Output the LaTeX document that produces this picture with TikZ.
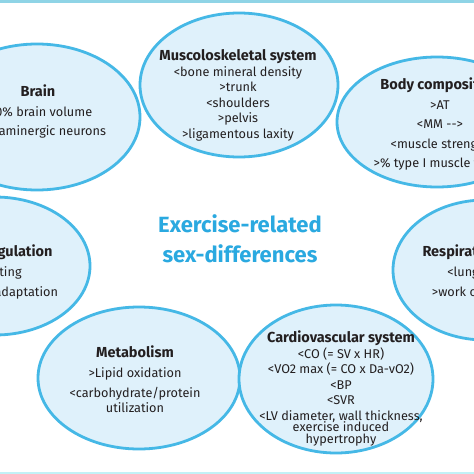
\documentclass[tikz,border=0pt]{standalone}
\usepackage{fontspec}
\setmainfont{Fira Sans}
\usetikzlibrary{shapes.geometric}
\definecolor{ringline}{HTML}{45B8E6}
\definecolor{ringfill}{HTML}{DFF1FB}
\definecolor{titleblue}{HTML}{2AA9E0}
\definecolor{topband}{HTML}{8FD4E6}
\definecolor{botband}{HTML}{C2F1F6}
\definecolor{txt}{HTML}{231F20}
\tikzset{
  ring/.style={ellipse, draw=ringline, fill=ringfill, line width=2.8pt, inner sep=0pt},
  ringtext/.style={align=center, text=txt, inner sep=0pt},
}
\newcommand{\bodyfont}[1]{\fontsize{12.7}{#1}\selectfont}
\newcommand{\hdfont}{\bfseries\fontsize{14.5}{15}\selectfont}
\begin{document}
\begin{tikzpicture}[x=1pt,y=-1pt]
\useasboundingbox (0,0) rectangle (474,474);
\clip (0,0) rectangle (474,474);
\fill[white] (0,0) rectangle (474,474);
\fill[topband] (0,0) rectangle (474,2.5);
\fill[botband] (0,471.5) rectangle (474,474);

\node[ring, minimum width=206pt, minimum height=146pt] (brain) at (37,117) {};
\node[ring, minimum width=198pt, minimum height=144pt] (musc) at (239,85) {};
\node[ring, minimum width=200pt, minimum height=130pt] (body) at (437,122) {};
\node[ring, minimum width=190pt, minimum height=138pt] (thermo) at (-5,266) {};
\node[ring, minimum width=184pt, minimum height=140pt] (resp) at (485,270) {};
\node[ring, minimum width=202pt, minimum height=142pt] (metab) at (139,378) {};
\node[ring, minimum width=194pt, minimum height=148pt] (cardio) at (336,379) {};

\node[ringtext, font=\bodyfont{19.5}] (braintxt) at (38,111.5)
  {{\hdfont Brain}\\<10\% brain volume\\<dopaminergic neurons};
\node[ringtext, font=\bodyfont{15.5}] (musctxt) at (238,95.5)
  {{\hdfont Muscoloskeletal system}\\<bone mineral density\\>trunk\\<shoulders\\>pelvis\\>ligamentous laxity};
\node[ringtext, font=\bodyfont{19.5}] (bodytxt) at (440,124)
  {{\hdfont Body composition}\\>AT\\<MM -{}->\\<muscle strength\\>\% type I muscle fibers};
\node[ringtext, font=\bodyfont{20}] (thermotxt) at (-7,272)
  {{\hdfont Thermoregulation}\\<sweating\\<cold/heat adaptation};
\node[ringtext, font=\bodyfont{20}] (resptxt) at (486,272)
  {{\hdfont Respiratory system}\\<lung volume\\>work of breathing};
\node[ringtext, font=\bodyfont{20}] (metabtxt) at (135,379.5)
  {{\hdfont Metabolism}\\>Lipid oxidation\\<carbohydrate/protein\\[-5pt]utilization};
\node[ringtext, font=\bodyfont{15.5}] (cardiotxt) at (341,388.5)
  {{\hdfont Cardiovascular system}\\<CO (= SV x HR)\\<VO2 max (= CO x Da-vO2)\\<BP\\<SVR\\<LV diameter, wall thickness,\\[-4pt]exercise induced\\[-4pt]hypertrophy};

\node[align=center, text=titleblue, font=\bfseries\fontsize{22}{30}\selectfont, inner sep=0pt] (center) at (240,238.5)
  {Exercise-related\\sex-differences};
\end{tikzpicture}
\end{document}
